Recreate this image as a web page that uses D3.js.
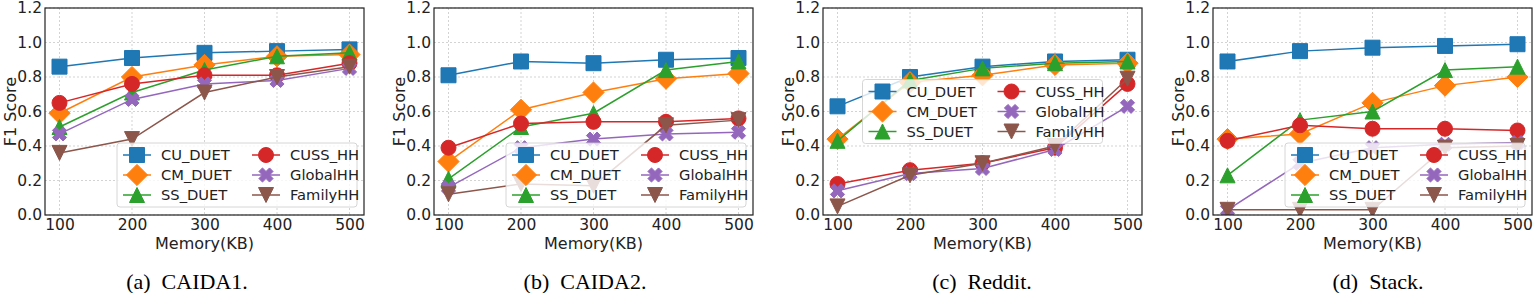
<!DOCTYPE html>
<html>
<head>
<meta charset="utf-8">
<script src="https://cdn.jsdelivr.net/npm/d3@7"></script>
<style>
    body { margin: 0; background: #fff; }
    svg text { font-family: "DejaVu Sans", sans-serif; fill: #222; }
    svg text.caption { font-family: "Liberation Serif", "DejaVu Serif", serif; fill: #000; white-space: pre; }
</style>
</head>
<body>
<div id="chart"></div>
<script>
// x values and ticks
const memory = [100, 200, 300, 400, 500];
const yTicks = [0, 0.2, 0.4, 0.6, 0.8, 1.0, 1.2];

const seriesNames = ["CU_DUET", "CM_DUET", "SS_DUET", "CUSS_HH", "GlobalHH", "FamilyHH"];

// F1 scores, one row per series (same order as seriesNames)
const caida1 = [
    [0.86, 0.91, 0.94, 0.95, 0.96],
    [0.59, 0.80, 0.87, 0.92, 0.93],
    [0.51, 0.71, 0.84, 0.92, 0.94],
    [0.65, 0.76, 0.81, 0.81, 0.88],
    [0.47, 0.67, 0.76, 0.78, 0.85],
    [0.36, 0.44, 0.71, 0.80, 0.86]
];
const caida2 = [
    [0.81, 0.89, 0.88, 0.90, 0.91],
    [0.31, 0.61, 0.71, 0.79, 0.82],
    [0.21, 0.51, 0.59, 0.84, 0.89],
    [0.39, 0.53, 0.54, 0.54, 0.56],
    [0.16, 0.39, 0.44, 0.47, 0.48],
    [0.12, 0.18, 0.17, 0.52, 0.55]
];
const reddit = [
    [0.63, 0.80, 0.86, 0.89, 0.90],
    [0.44, 0.77, 0.81, 0.87, 0.88],
    [0.43, 0.78, 0.85, 0.88, 0.89],
    [0.18, 0.26, 0.30, 0.39, 0.76],
    [0.14, 0.24, 0.27, 0.38, 0.63],
    [0.05, 0.23, 0.30, 0.40, 0.79]
];
const stack = [
    [0.89, 0.95, 0.97, 0.98, 0.99],
    [0.44, 0.47, 0.65, 0.75, 0.80],
    [0.23, 0.55, 0.60, 0.84, 0.86],
    [0.43, 0.52, 0.50, 0.50, 0.49],
    [0.03, 0.30, 0.39, 0.41, 0.42],
    [0.03, 0.03, 0.03, 0.39, 0.40]
];

const panelData = [caida1, caida2, reddit, stack];
const captions = ["(a)  CAIDA1.", "(b)  CAIDA2.", "(c)  Reddit.", "(d)  Stack."];
const legendPos = ["lower right", "lower right", "center", "lower right"];

// styles
const colors = ["#1f77b4", "#ff7f0e", "#2ca02c", "#d62728", "#9467bd", "#8c564b"];

const markerShapes = {
    square: { draw(ctx, s) { const h = s / 2; ctx.rect(-h, -h, s, s); } },
    diamond: { draw(ctx, s) {
        const r = s * 0.707;
        ctx.moveTo(0, -r); ctx.lineTo(r, 0); ctx.lineTo(0, r); ctx.lineTo(-r, 0); ctx.closePath();
    } },
    triUp: { draw(ctx, s) {
        const h = s / 2;
        ctx.moveTo(0, -h); ctx.lineTo(h, h); ctx.lineTo(-h, h); ctx.closePath();
    } },
    circle: { draw(ctx, s) { ctx.moveTo(s / 2, 0); ctx.arc(0, 0, s / 2, 0, 2 * Math.PI); } },
    xFilled: { draw(ctx, s) {
        const pts = [[-1, -3], [1, -3], [1, -1], [3, -1], [3, 1], [1, 1], [1, 3], [-1, 3], [-1, 1], [-3, 1], [-3, -1], [-1, -1]];
        const c = Math.SQRT1_2;
        pts.forEach(function (p, i) {
            const x = (p[0] * c - p[1] * c) / 6 * s;
            const y = (p[0] * c + p[1] * c) / 6 * s;
            if (i == 0) ctx.moveTo(x, y); else ctx.lineTo(x, y);
        });
        ctx.closePath();
    } },
    triDown: { draw(ctx, s) {
        const h = s / 2;
        ctx.moveTo(0, h); ctx.lineTo(h, -h); ctx.lineTo(-h, -h); ctx.closePath();
    } }
};
const markers = ["square", "diamond", "triUp", "circle", "xFilled", "triDown"];
const markerSize = 15;

const W = 1537, H = 293;
const plot = { top: 8, height: 207, width: 319 };
const panelLeft = [45, 434, 823, 1213];
const captionX = [187, 585, 982, 1378];

const svg = d3.select("#chart").append("svg")
    .attr("width", W)
    .attr("height", H);

panelData.forEach(function (data, p) {
    const left = panelLeft[p];
    const g = svg.append("g")
        .attr("transform", "translate(" + left + "," + plot.top + ")");

    const xScale = d3.scaleLinear()
        .domain([80, 520])
        .range([0, plot.width]);
    const yScale = d3.scaleLinear()
        .domain([0, 1.2])
        .range([plot.height, 0]);

    // grid
    g.append("g").selectAll("line.gx")
        .data(memory)
        .join("line")
        .attr("x1", d => xScale(d)).attr("x2", d => xScale(d))
        .attr("y1", 0).attr("y2", plot.height)
        .attr("stroke", "#c8c8c8").attr("stroke-width", 0.8)
        .attr("stroke-dasharray", "2,2");
    g.append("g").selectAll("line.gy")
        .data(yTicks)
        .join("line")
        .attr("x1", 0).attr("x2", plot.width)
        .attr("y1", d => yScale(d)).attr("y2", d => yScale(d))
        .attr("stroke", "#c8c8c8").attr("stroke-width", 0.8)
        .attr("stroke-dasharray", "2,2");

    // axes (no tick marks, labels only)
    const xAxis = g.append("g")
        .attr("transform", "translate(0," + plot.height + ")")
        .call(d3.axisBottom(xScale).tickValues(memory).tickSize(0).tickPadding(4));
    const yAxis = g.append("g")
        .call(d3.axisLeft(yScale).tickValues(yTicks).tickSize(0).tickPadding(3)
            .tickFormat(d3.format(".1f")));
    [xAxis, yAxis].forEach(function (a) {
        a.select(".domain").remove();
        a.selectAll("text")
            .style("font-family", "DejaVu Sans")
            .style("font-size", "15.5px")
            .attr("fill", "#222");
    });

    g.append("text")
        .attr("x", plot.width / 2)
        .attr("y", plot.height + 34)
        .attr("text-anchor", "middle")
        .style("font-size", "16px")
        .text("Memory(KB)");
    g.append("text")
        .attr("transform", "translate(" + (-35) + "," + (plot.height / 2) + ") rotate(-90)")
        .attr("text-anchor", "middle")
        .attr("dy", "0.35em")
        .style("font-size", "16px")
        .text("F1 Score");

    // clip
    const clipId = "clip" + p;
    g.append("clipPath").attr("id", clipId)
        .append("rect").attr("width", plot.width).attr("height", plot.height);

    const line = d3.line()
        .x((d, i) => xScale(memory[i]))
        .y(d => yScale(d));

    const series = g.append("g").attr("clip-path", "url(#" + clipId + ")");
    data.forEach(function (vals, s) {
        const sg = series.append("g");
        sg.append("path")
            .datum(vals)
            .attr("d", line)
            .attr("fill", "none")
            .attr("stroke", colors[s])
            .attr("stroke-width", 1.5);
        sg.selectAll("path.mk")
            .data(vals)
            .join("path")
            .attr("class", "mk")
            .attr("transform", (d, i) => "translate(" + xScale(memory[i]) + "," + yScale(d) + ")")
            .attr("d", d3.symbol().type(markerShapes[markers[s]]).size(markerSize))
            .attr("fill", colors[s])
            .attr("stroke", colors[s])
            .attr("stroke-width", 1);
    });

    // frame
    g.append("rect")
        .attr("width", plot.width)
        .attr("height", plot.height)
        .attr("fill", "none")
        .attr("stroke", "#222")
        .attr("stroke-width", 1.2);

    // legend
    const lw = 240, lh = 64;
    let lx, ly;
    if (legendPos[p] == "center") {
        lx = (plot.width - lw) / 2;
        ly = (plot.height - lh) / 2;
    } else {
        lx = plot.width - lw - 7;
        ly = plot.height - lh - 8;
    }
    const leg = g.append("g").attr("transform", "translate(" + lx + "," + ly + ")");
    leg.append("rect")
        .attr("width", lw).attr("height", lh)
        .attr("rx", 3).attr("ry", 3)
        .attr("fill", "#fff").attr("fill-opacity", 0.8)
        .attr("stroke", "#ccc").attr("stroke-width", 0.8);
    seriesNames.forEach(function (name, s) {
        const col = Math.floor(s / 3), row = s % 3;
        const cx = col == 0 ? 20 : 149;
        const cy = 12 + row * 20;
        const item = leg.append("g").attr("transform", "translate(" + cx + "," + cy + ")");
        item.append("line")
            .attr("x1", -14).attr("x2", 14)
            .attr("stroke", colors[s]).attr("stroke-width", 1.5);
        item.append("path")
            .attr("d", d3.symbol().type(markerShapes[markers[s]]).size(markerSize))
            .attr("fill", colors[s]).attr("stroke", colors[s]).attr("stroke-width", 1);
        item.append("text")
            .attr("x", 24)
            .attr("dy", "0.36em")
            .style("font-size", "14.7px")
            .text(name);
    });

    // caption
    svg.append("text")
        .attr("class", "caption")
        .attr("x", captionX[p])
        .attr("y", 289)
        .attr("text-anchor", "middle")
        .style("font-size", "22px")
        .text(captions[p]);
});
</script>
</body>
</html>
